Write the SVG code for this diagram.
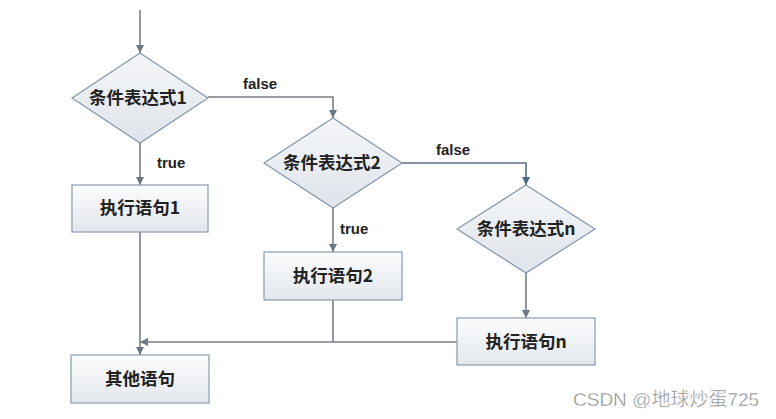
<svg xmlns="http://www.w3.org/2000/svg" width="776" height="419" viewBox="0 0 776 419">
<defs>
<linearGradient id="gd" x1="0" y1="0" x2="0" y2="1"><stop offset="0" stop-color="#f4f6f9"/><stop offset="1" stop-color="#dfe4ea"/></linearGradient>
<linearGradient id="gr" x1="0" y1="0" x2="0" y2="1"><stop offset="0" stop-color="#fbfcfd"/><stop offset="1" stop-color="#e3e7ec"/></linearGradient>
<marker id="arr" viewBox="0 0 10 10" refX="10" refY="5" markerWidth="8" markerHeight="8" markerUnits="userSpaceOnUse" orient="auto"><path d="M0,0 L10,5 L0,10 Z" fill="#6e7680"/></marker>
<marker id="arrb" viewBox="0 0 10 10" refX="10" refY="5" markerWidth="8" markerHeight="8" markerUnits="userSpaceOnUse" orient="auto"><path d="M0,0 L10,5 L0,10 Z" fill="#4d6580"/></marker>
</defs>
<style>
.dia{fill:url(#gd);stroke:#8496aa;stroke-width:1.2}
.box{fill:url(#gr);stroke:#8a9bb0;stroke-width:1.2}
.ln{fill:none;stroke:#7a7f86;stroke-width:1.6}
.lnb{fill:none;stroke:#5a6f87;stroke-width:1.6}
.t{font-family:"Noto Sans CJK SC","Liberation Serif",serif;font-size:17.5px;font-weight:600;fill:#222;text-anchor:middle}
.lb{font-family:"Liberation Sans",Arial,sans-serif;font-size:15px;font-weight:bold;fill:#222}
.wm{font-family:"Liberation Sans","Noto Sans CJK SC",sans-serif;font-size:19px;fill:#8a8a8a;stroke:#ffffff;stroke-width:0.4}
</style>
<rect width="776" height="419" fill="#ffffff"/>
<g id="connectors">
<path class="ln" d="M140,10 V53" marker-end="url(#arr)"/>
<path class="ln" d="M208,97 H333 V118" marker-end="url(#arr)"/>
<path class="ln" d="M140,143 V185" marker-end="url(#arr)"/>
<path class="lnb" d="M402,163 H526 V185" marker-end="url(#arrb)"/>
<path class="ln" d="M333,208 V252" marker-end="url(#arr)"/>
<path class="ln" d="M526,273 V318" marker-end="url(#arr)"/>
<path class="ln" d="M140,232 V355" marker-end="url(#arr)"/>
<path class="ln" d="M457,342 H140" marker-end="url(#arr)"/>
<path class="ln" d="M333,300 V342"/>
<text class="lb" x="243" y="89">false</text>
<text class="lb" x="157" y="168">true</text>
<text class="lb" x="436" y="155">false</text>
<text class="lb" x="340" y="234">true</text>
</g>
<g id="cond1"><polygon class="dia" points="140,53 208,98 140,143 72,98"/><text class="t" x="138" y="104">条件表达式1</text></g>
<g id="stmt1"><rect class="box" x="72" y="185" width="136" height="47"/><text class="t" x="140" y="214">执行语句1</text></g>
<g id="cond2"><polygon class="dia" points="333,118 402,163 333,208 264,163"/><text class="t" x="332" y="169">条件表达式2</text></g>
<g id="stmt2"><rect class="box" x="264" y="252" width="138" height="48"/><text class="t" x="333" y="282">执行语句2</text></g>
<g id="condn"><polygon class="dia" points="526,185 595,229 526,273 457,229"/><text class="t" x="526" y="235">条件表达式n</text></g>
<g id="stmtn"><rect class="box" x="457" y="318" width="138" height="47"/><text class="t" x="526" y="348">执行语句n</text></g>
<g id="other"><rect class="box" x="71" y="355" width="138" height="48"/><text class="t" x="140" y="385">其他语句</text></g>
<text class="wm" x="573" y="406">CSDN @地球炒蛋725</text>
</svg>
